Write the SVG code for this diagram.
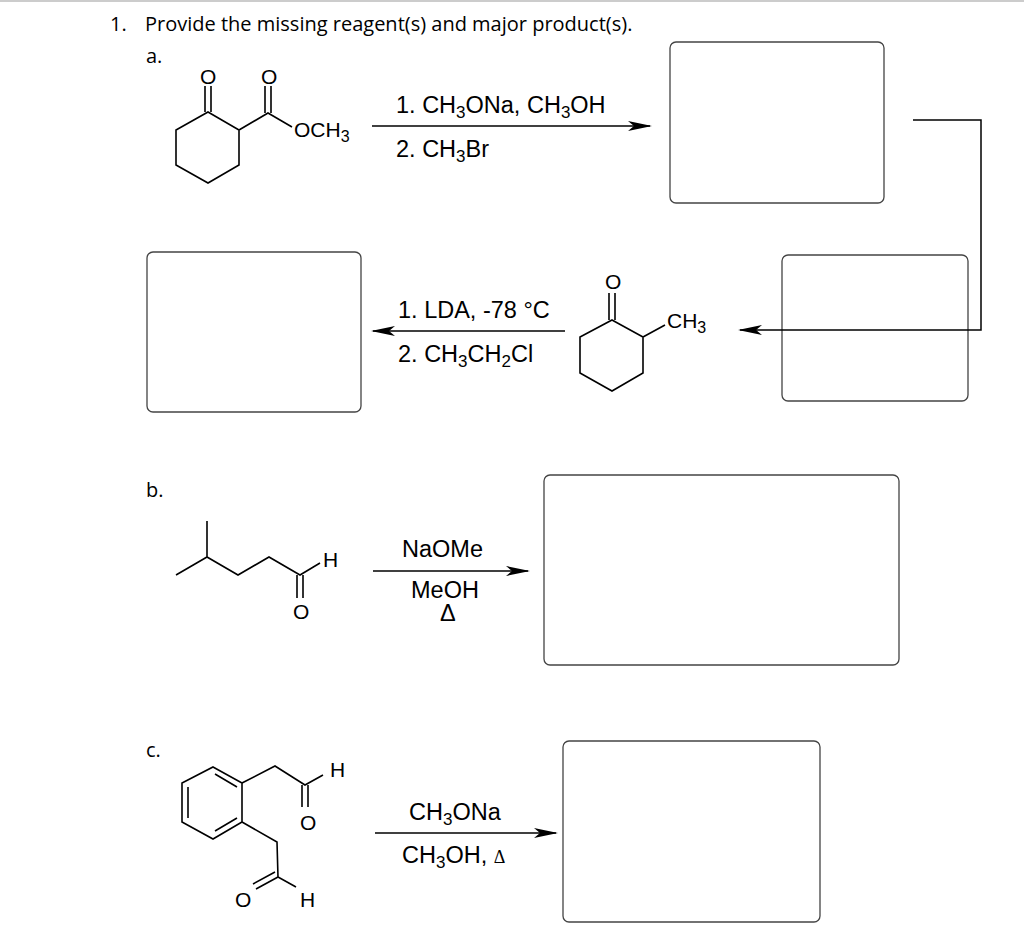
<svg xmlns="http://www.w3.org/2000/svg" width="1024" height="946" viewBox="0 0 1024 946">
<defs><marker id="ah" markerWidth="24" markerHeight="10" refX="22" refY="5" orient="auto" markerUnits="userSpaceOnUse"><path d="M0,0 L24,5 L0,10 L6,5 Z" fill="#000"/></marker></defs>
<style>
.b{fill:none;stroke:#000;stroke-width:1.6}
.box{fill:#fff;stroke:#444;stroke-width:1.3}
.t{font-family:"Liberation Sans",Arial,sans-serif;font-size:21px;fill:#000}
.r{font-family:"Liberation Sans",Arial,sans-serif;font-size:23.5px;fill:#000}
.h{font-family:"Open Sans","Liberation Sans",sans-serif;font-size:20px;fill:#000}
.ar{fill:none;stroke:#000;stroke-width:1.5;marker-end:url(#ah)}
</style>
<rect width="1024" height="946" fill="#fff"/>
<line x1="0" y1="1" x2="1024" y2="1" stroke="#ccc" stroke-width="2"/>
<text class="h" x="110" y="31">1.</text>
<text class="h" x="145" y="31">Provide the missing reagent(s) and major product(s).</text>
<text class="h" x="146" y="63">a.</text>
<text class="h" x="146" y="497">b.</text>
<text class="h" x="146" y="757">c.</text>
<g id="boxes">
<rect id="boxA1" class="box" x="670" y="42" width="214" height="161" rx="6"/>
<rect id="boxA2" class="box" x="782" y="255" width="186" height="146" rx="6"/>
<rect id="boxA3" class="box" x="147" y="252" width="214" height="160" rx="6"/>
<rect id="boxB" class="box" x="544" y="475" width="355" height="190" rx="6"/>
<rect id="boxC" class="box" x="563" y="741" width="257" height="181" rx="6"/>
</g>
<g id="molA">
<path class="b" d="M208,112 L239,130 L239,165 L208,183 L176,165 L176,130 Z M239,130 L268,113 L292,127"/>
<path class="b" d="M205,112 V86 M211,112 V86 M265,113 V86 M271,113 V86"/>
<text class="t" x="200" y="84">O</text><text class="t" x="261" y="84">O</text>
<text class="t" x="294" y="137">OCH<tspan font-size="16" dy="5">3</tspan></text>
</g>
<g id="molA2">
<path class="b" d="M612,320 L643,337 L643,373 L612,391 L580,373 L580,337 Z M643,337 L665,325"/>
<path class="b" d="M609,320 V293 M615,320 V293"/>
<text class="t" x="605" y="289">O</text>
<text class="t" x="667" y="328">CH<tspan font-size="16" dy="5">3</tspan></text>
</g>
<g id="molB">
<path class="b" d="M207,521 L207,557 M176,575 L207,557 L238,575 L269,557 L300,575 L320,563"/>
<path class="b" d="M297,575 V598 M303,575 V598"/>
<text class="t" x="293" y="619">O</text>
<text class="t" x="323" y="567">H</text>
</g>
<g id="molC">
<path class="b" d="M213,767 L242,783 L242,822 L213,839 L182,822 L182,783 Z"/>
<path class="b" d="M188,787 V818 M215,774 L237,787 M237,818 L215,831"/>
<path class="b" d="M242,783 L275,766 L305,785 L323,775 M302,785 V807 M308,785 V807"/>
<path class="b" d="M242,822 L277,842 L278,877 L296,887 M278,877 L256,889 M275,872 L253,884"/>
<text class="t" x="300" y="830">O</text><text class="t" x="330" y="777">H</text>
<text class="t" x="235" y="907">O</text><text class="t" x="300" y="907">H</text>
</g>
<g id="connectors">
<line class="ar" x1="372" y1="126" x2="650" y2="126"/>
<line class="ar" x1="565" y1="331" x2="373" y2="331"/>
<line class="ar" x1="373" y1="571" x2="528" y2="571"/>
<line class="ar" x1="375" y1="833" x2="556" y2="833"/>
<path class="ar" d="M913,120 H981 V330 H740"/>
</g>
<g id="labels">
<text class="r" x="396" y="113">1. CH<tspan font-size="17" dy="5">3</tspan><tspan dy="-5">ONa, CH</tspan><tspan font-size="17" dy="5">3</tspan><tspan dy="-5">OH</tspan></text>
<text class="r" x="396" y="157">2. CH<tspan font-size="17" dy="5">3</tspan><tspan dy="-5">Br</tspan></text>
<text class="r" x="398" y="318">1. LDA, -78 °C</text>
<text class="r" x="398" y="362">2. CH<tspan font-size="17" dy="5">3</tspan><tspan dy="-5">CH</tspan><tspan font-size="17" dy="5">2</tspan><tspan dy="-5">Cl</tspan></text>
<text class="r" x="402" y="557">NaOMe</text>
<text class="r" x="411" y="598">MeOH</text>
<text class="r" x="440" y="621" font-family="Liberation Serif" font-size="18">Δ</text>
<text class="r" x="409" y="820">CH<tspan font-size="17" dy="5">3</tspan><tspan dy="-5">ONa</tspan></text>
<text class="r" x="402" y="863">CH<tspan font-size="17" dy="5">3</tspan><tspan dy="-5">OH, </tspan><tspan font-family="Liberation Serif" font-size="18">Δ</tspan></text>
</g>
</svg>
